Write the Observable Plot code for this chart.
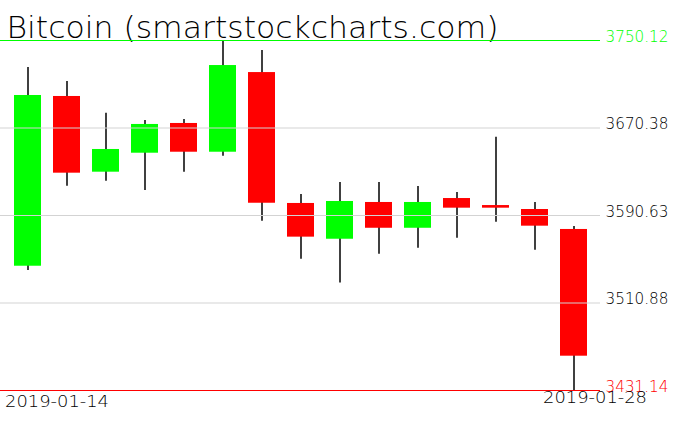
<!DOCTYPE html>
<html><head><meta charset="utf-8">
<script src="https://cdn.jsdelivr.net/npm/d3@7"></script>
<script src="https://cdn.jsdelivr.net/npm/@observablehq/plot@0.6"></script>
<style>html,body{margin:0;padding:0;background:#fff}</style>
</head><body><div id="chart"></div>
<script>
const title = "Bitcoin (smartstockcharts.com)";
const dates = ["2019-01-14","2019-01-15","2019-01-16","2019-01-17","2019-01-18","2019-01-19","2019-01-20","2019-01-21","2019-01-22","2019-01-23","2019-01-24","2019-01-25","2019-01-26","2019-01-27","2019-01-28"];
const open  = [3544.4, 3699.1, 3630.1, 3647.4, 3674.5, 3648.3, 3720.9, 3601.6, 3569.0, 3602.5, 3579.0, 3606.1, 3599.7, 3596.1, 3577.9];
const high  = [3725.5, 3712.7, 3683.9, 3677.2, 3678.1, 3750.12, 3741.0, 3609.8, 3620.7, 3620.7, 3617.0, 3611.6, 3662.0, 3602.5, 3580.6];
const low   = [3540.5, 3617.3, 3621.9, 3613.4, 3630.1, 3644.7, 3585.4, 3550.8, 3529.0, 3555.3, 3560.8, 3569.9, 3584.5, 3558.9, 3431.14];
const close = [3700.0, 3629.2, 3650.8, 3673.6, 3648.3, 3727.3, 3601.8, 3570.9, 3603.4, 3579.0, 3602.5, 3597.3, 3597.3, 3580.9, 3462.4];

const candles = dates.map((d, i) => ({date: d, open: open[i], high: high[i], low: low[i], close: close[i]}));
const lo = d3.min(low), hi = d3.max(high);
const levels = d3.range(5).map(k => lo + k * (hi - lo) / 4);
const gridLevels = levels.slice(1, 4);
const upColor = "#00ff00", downColor = "#ff0000";
const font = "'DejaVu Sans', sans-serif";

const chart = Plot.plot({
  width: 676, height: 431,
  marginLeft: 0, marginRight: 76, marginTop: 40, marginBottom: 41,
  style: {background: "#fff", fontFamily: font},
  color: {type: "identity"},
  x: {type: "band", domain: dates, range: [0, 600], paddingInner: 12 / 39, paddingOuter: 13.5 / 39, axis: null},
  y: {domain: [lo, hi], range: [390, 40], axis: null},
  marks: [
    Plot.text([title], {frameAnchor: "top-left", textAnchor: "start", lineAnchor: "bottom", dx: 6, dy: -3, fontSize: 30, fontWeight: 200, fill: "#000"}),
    Plot.ruleX(candles, {x: "date", y1: "low", y2: "high", stroke: "#000", strokeWidth: 1.5}),
    Plot.barY(candles, {x: "date", y1: "open", y2: "close", fill: d => d.close >= d.open ? upColor : downColor}),
    Plot.ruleY(gridLevels, {stroke: "#d3d3d3"}),
    Plot.ruleY([hi], {stroke: upColor}),
    Plot.ruleY([lo], {stroke: downColor}),
    Plot.text(levels, {y: d => d, text: d => d.toFixed(2), frameAnchor: "right", textAnchor: "start", lineAnchor: "bottom", dx: 5, dy: 1, fontSize: 15.5, fontWeight: 200,
      fill: d => d === hi ? upColor : d === lo ? downColor : "#000"}),
    Plot.text([dates[0]], {x: d => d, text: d => d, frameAnchor: "bottom", textAnchor: "start", lineAnchor: "bottom", dx: -23, dy: 16, fontSize: 16, fontWeight: 200, fill: "#000"}),
    Plot.text([dates[dates.length - 1]], {x: d => d, text: d => d, frameAnchor: "bottom", textAnchor: "start", lineAnchor: "bottom", dx: -31, dy: 12, fontSize: 16, fontWeight: 200, fill: "#000"})
  ]
});
document.getElementById("chart").appendChild(chart);
d3.select(chart).selectAll("text").each(function() {
  const t = this.textContent;
  if (t === title) d3.select(this).attr("textLength", 492).attr("lengthAdjust", "spacingAndGlyphs");
  else if (dates.includes(t)) d3.select(this).attr("textLength", 104).attr("lengthAdjust", "spacingAndGlyphs");
  else d3.select(this).attr("textLength", 63).attr("lengthAdjust", "spacingAndGlyphs");
});
</script>
</body></html>
